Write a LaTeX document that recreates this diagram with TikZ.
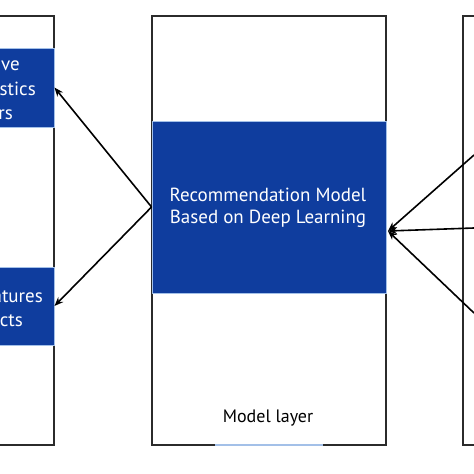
\documentclass[tikz,border=0pt]{standalone}
\usepackage{fontspec}
\setmainfont{PT Sans}
\usetikzlibrary{arrows.meta}
\definecolor{boxblue}{HTML}{0F3D9E}
\definecolor{edgeblue}{HTML}{A3C0E8}
\definecolor{colline}{HTML}{2B2B2B}
\tikzset{
  column/.style={draw=colline, line width=1.8pt, fill=white},
  bluebox/.style={fill=boxblue, draw=edgeblue, line width=0.9pt, inner sep=0pt},
  boxtext/.style={text=white, font=\fontsize{19}{22}\selectfont, inner sep=0pt},
  arr/.style={draw=black, line width=1.6pt, -{Stealth[length=9pt,width=7pt]}}
}
\begin{document}
\begin{tikzpicture}[x=1pt,y=-1pt]
\useasboundingbox (0,0) rectangle (474,474);
\clip (0,0) rectangle (474,474);
\fill[white] (0,0) rectangle (474,474);
% columns
\draw[column] (-20,16) rectangle (54,445);
\draw[column] (152,16) rectangle (386,445);
\draw[edgeblue, line width=1.8pt] (215,445) -- (323,445);
\draw[column] (463,16) rectangle (520,445);
% blue boxes
\node[bluebox, minimum width=74pt, minimum height=79pt] (lb1) at (17,87.5) {};
\node[bluebox, minimum width=74pt, minimum height=78pt] (lb2) at (17,306) {};
\node[bluebox, minimum width=234pt, minimum height=172pt] (mid) at (269,207) {};
% texts
\node[boxtext, anchor=base east] (t1) at (20,70) {ve};
\node[boxtext, anchor=base east] (t2) at (36,95) {istics};
\node[boxtext, anchor=base east] (t3) at (13,119) {rs};
\node[boxtext, anchor=base east] (t4) at (43,302) {atures};
\node[boxtext, anchor=base east] (t5) at (23,326) {cts};
\node[boxtext, align=center, anchor=base] (m1) at (268,201.5) {Recommendation Model};
\node[boxtext, align=center, anchor=base] (m2) at (268,223) {Based on Deep Learning};
\node[font=\fontsize{18}{20}\selectfont, text=black, inner sep=0pt, anchor=base] (ml) at (268,422) {Model layer};
% arrows
\draw[arr] (mid.west) -- (lb1.east);
\draw[arr] (mid.west) -- (lb2.east);
\coordinate (rtip) at (388,231);
\coordinate (r1) at (474,155);
\coordinate (r2) at (474,228);
\coordinate (r3) at (474,313);
\draw[arr] (r1) -- (rtip);
\draw[arr] (r2) -- (rtip);
\draw[arr] (r3) -- (rtip);
\end{tikzpicture}
\end{document}
